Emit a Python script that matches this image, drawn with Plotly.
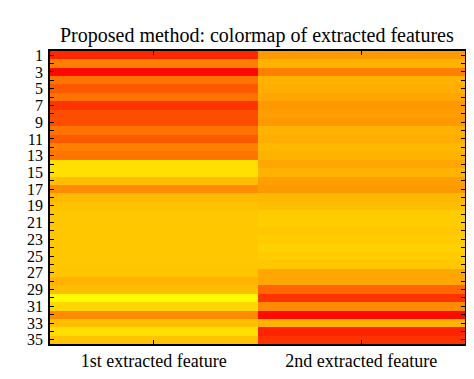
import plotly.graph_objects as go

rows = list(range(1, 36))
label_rows = [r for r in rows if r % 2 == 1]
features = ["1st extracted feature", "2nd extracted feature"]
feature1 = [0.15, 0.50, 0.03, 0.45, 0.35, 0.45, 0.20, 0.30, 0.30, 0.45,
            0.35, 0.50, 0.45, 0.87, 0.88, 0.75, 0.55, 0.73, 0.76, 0.78,
            0.78, 0.78, 0.78, 0.78, 0.78, 0.78, 0.77, 0.70, 0.74, 0.98,
            0.84, 0.55, 0.75, 0.87, 0.77]
feature2 = [0.60, 0.70, 0.50, 0.70, 0.68, 0.65, 0.60, 0.62, 0.60, 0.70,
            0.68, 0.72, 0.70, 0.65, 0.70, 0.62, 0.60, 0.72, 0.75, 0.80,
            0.80, 0.78, 0.80, 0.82, 0.80, 0.78, 0.65, 0.65, 0.40, 0.20,
            0.55, 0.04, 0.70, 0.14, 0.20]

z = [[a, b] for a, b in zip(feature1, feature2)]

fig = go.Figure(go.Heatmap(
    z=z, x=[1, 2], y=rows,
    colorscale=[[0, "rgb(255,0,0)"], [1, "rgb(255,255,0)"]],
    zmin=0, zmax=1, showscale=False,
))

font = "Liberation Serif"
fig.update_layout(
    width=474, height=379,
    margin=dict(l=42, r=17, t=43, b=43),
    paper_bgcolor="white", plot_bgcolor="white",
    font=dict(family=font, size=18, color="black"),
    title=dict(text="Proposed method: colormap of extracted features",
               x=0.525, xanchor="center", y=0.93, yanchor="middle",
               font=dict(family=font, size=20, color="black")),
)
fig.update_xaxes(
    range=[0.5, 2.5], tickvals=[1, 2], ticktext=features,
    ticks="inside", ticklen=4, tickcolor="black", tickwidth=1,
    showline=True, linecolor="black", linewidth=1.5, mirror="ticks",
    showgrid=False, zeroline=False,
)
fig.update_yaxes(
    range=[35.5, 0.5], tickvals=label_rows, ticktext=[str(r) for r in label_rows],
    tickfont=dict(family=font, size=16, color="black"),
    ticks="inside", ticklen=4, tickcolor="black", tickwidth=1,
    minor=dict(tickmode="linear", tick0=0, dtick=1, ticks="inside",
               ticklen=4, tickcolor="black", tickwidth=1, showgrid=False),
    showline=True, linecolor="black", linewidth=1.5, mirror="ticks",
    showgrid=False, zeroline=False, ticklabelstandoff=2,
)
fig.write_html("out.html")
